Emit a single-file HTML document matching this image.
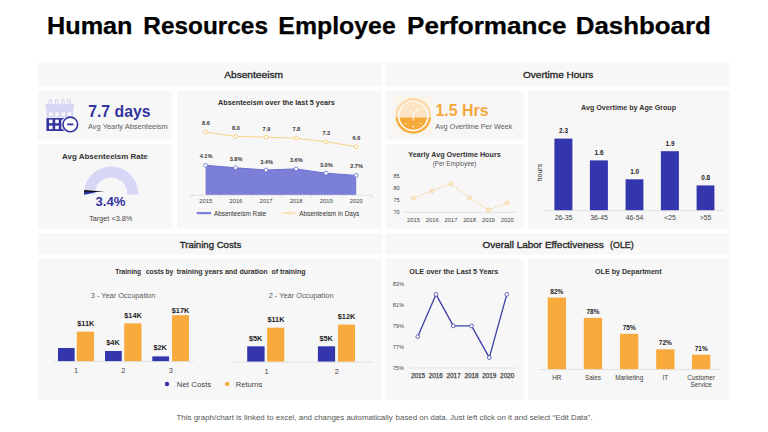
<!DOCTYPE html>
<html>
<head>
<meta charset="utf-8">
<title>Human Resources Employee Performance Dashboard</title>
<style>
html,body{margin:0;padding:0;background:#ffffff;}
body{width:768px;height:432px;overflow:hidden;font-family:"Liberation Sans",sans-serif;}
svg{display:block;font-family:"Liberation Sans",sans-serif;}
.b{font-weight:bold;}
.m{text-anchor:middle;}
.e{text-anchor:end;}
</style>
</head>
<body>
<svg width="768" height="432" viewBox="0 0 768 432">
<rect x="0" y="0" width="768" height="432" fill="#ffffff"/>

<!-- TITLE -->
<g class="b" font-size="24" fill="#000000" stroke="#000000" stroke-width="0.25">
<text x="47" y="33.5" textLength="85.5" lengthAdjust="spacingAndGlyphs">Human</text>
<text x="143.3" y="33.5" textLength="124.7" lengthAdjust="spacingAndGlyphs">Resources</text>
<text x="278.3" y="33.5" textLength="117.5" lengthAdjust="spacingAndGlyphs">Employee</text>
<text x="407" y="33.5" textLength="159.5" lengthAdjust="spacingAndGlyphs">Performance</text>
<text x="575.8" y="33.5" textLength="135" lengthAdjust="spacingAndGlyphs">Dashboard</text>
</g>

<!-- PANELS -->
<g fill="#f7f7f7">
<rect x="38" y="62.3" width="344" height="24.2"/>
<rect x="385.5" y="62.3" width="344" height="24.2"/>
<rect x="38" y="233.3" width="344" height="21.2"/>
<rect x="385.5" y="233.3" width="344" height="21.2"/>
<rect x="38" y="91" width="134.5" height="48.5"/>
<rect x="38" y="144" width="134.5" height="84.8"/>
<rect x="177" y="91" width="205" height="137.8"/>
<rect x="385.5" y="91" width="138" height="48.5"/>
<rect x="385.5" y="144" width="138" height="84.8"/>
<rect x="528" y="91" width="201.5" height="137.8"/>
<rect x="38" y="258.8" width="344" height="141.2"/>
<rect x="385.5" y="258.7" width="138" height="141.3"/>
<rect x="528" y="258.7" width="201.5" height="141.3"/>
</g>

<!-- SECTION HEADERS -->
<g font-size="9.5" fill="#2b2b2b" stroke="#2b2b2b" stroke-width="0.35">
<text x="224.2" y="78.3" textLength="58.8" lengthAdjust="spacingAndGlyphs">Absenteeism</text>
<text x="523" y="78.3" textLength="70.3" lengthAdjust="spacingAndGlyphs">Overtime Hours</text>
<text x="179.7" y="247.5" textLength="61.5" lengthAdjust="spacingAndGlyphs">Training Costs</text>
<text x="482.5" y="247.5" textLength="121.3" lengthAdjust="spacingAndGlyphs">Overall Labor Effectiveness</text>
<text x="610" y="247.5" textLength="23.8" lengthAdjust="spacingAndGlyphs">(OLE)</text>
</g>

<!-- C1 : 7.7 days -->
<g id="cal">
  <!-- rings -->
  <g fill="#d5d6f4">
    <rect x="48.6" y="98.9" width="3.6" height="8" rx="1.8"/>
    <rect x="54.8" y="98.9" width="3.6" height="8" rx="1.8"/>
    <rect x="61.0" y="98.9" width="3.6" height="8" rx="1.8"/>
    <rect x="67.2" y="98.9" width="3.6" height="8" rx="1.8"/>
    <rect x="45.5" y="104" width="28.6" height="3.8" rx="1"/>
    <rect x="46.4" y="107.5" width="26.8" height="9.8"/>
  </g>
  <g fill="#f7f7f7">
    <rect x="49.7" y="100.2" width="1.4" height="4.6" rx="0.7"/>
    <rect x="55.9" y="100.2" width="1.4" height="4.6" rx="0.7"/>
    <rect x="62.1" y="100.2" width="1.4" height="4.6" rx="0.7"/>
    <rect x="68.3" y="100.2" width="1.4" height="4.6" rx="0.7"/>
    <rect x="49" y="112.4" width="3.6" height="3.4"/>
    <rect x="55.2" y="112.4" width="3.6" height="3.4"/>
    <rect x="61.4" y="112.4" width="3.6" height="3.4"/>
    <rect x="67.6" y="112.4" width="3.6" height="3.4"/>
  </g>
  <rect x="46.4" y="118" width="22" height="13" rx="1" fill="#3234a0"/>
  <g fill="#f7f7f7">
    <rect x="49" y="119.6" width="3.6" height="3.6"/>
    <rect x="55.2" y="119.6" width="3.6" height="3.6"/>
    <rect x="61.4" y="119.6" width="3.0" height="3.6"/>
    <rect x="49" y="125.6" width="3.6" height="3.6"/>
    <rect x="55.2" y="125.6" width="3.6" height="3.6"/>
    <rect x="61.4" y="125.6" width="3.0" height="3.6"/>
  </g>
  <circle cx="70.3" cy="124.4" r="8.9" fill="#f7f7f7"/>
  <circle cx="70.3" cy="124.4" r="7.3" fill="#ffffff" stroke="#3234a0" stroke-width="1.6"/>
  <rect x="67.2" y="123.5" width="6.2" height="1.8" fill="#3234a0"/>
</g>
<text x="88.2" y="116.5" class="b" font-size="16" fill="#3234a0" textLength="62.3" lengthAdjust="spacingAndGlyphs">7.7 days</text>
<text x="88" y="129" font-size="7.5" fill="#606060" textLength="79.8" lengthAdjust="spacingAndGlyphs">Avg Yearly Absenteeism</text>

<!-- C2 : gauge -->
<text x="62" y="159" class="b" font-size="8" fill="#333333" textLength="85.8" lengthAdjust="spacingAndGlyphs">Avg Absenteeism Rate</text>
<path d="M84.1 194.6 L84.1 193.4 A27 27 0 0 1 138.1 193.4 L138.1 194.6 L127.1 194.6 L127.1 193.4 A16 16 0 0 0 95.1 193.4 L95.1 194.6 Z" fill="#d6d7f5"/>
<polygon points="84.1,189.9 104.5,191.7 84.1,192.6" fill="#0a0a14"/>
<polygon points="84.1,191.6 96,192.3 84.1,194.8" fill="#2a2c96"/>
<text x="95.5" y="206.3" class="b" font-size="13.5" fill="#3234a0" textLength="30" lengthAdjust="spacingAndGlyphs">3.4%</text>
<text x="89.2" y="220.5" font-size="7.5" fill="#444444" textLength="43" lengthAdjust="spacingAndGlyphs">Target &lt;3.8%</text>

<!-- C3 : area chart -->
<text x="218" y="105" class="b" font-size="7.5" fill="#2b2b2b" textLength="116.8" lengthAdjust="spacingAndGlyphs">Absenteeism over the last 5 years</text>
<polygon points="205.6,194.9 205.6,165.3 235.5,167.8 266.0,170.0 296.1,168.9 326.1,173.2 356.2,175.4 356.2,194.9" fill="#7b7fd8"/>
<polyline points="205.6,165.3 235.5,167.8 266.0,170.0 296.1,168.9 326.1,173.2 356.2,175.4" fill="none" stroke="#6a6fd0" stroke-width="1"/>
<g stroke="#d9d9d9" stroke-width="0.7" fill="none">
  <path d="M190.3 195.2 H372.3"/>
  <path d="M190.3 195.2 v3 M220.6 195.2 v3 M250.9 195.2 v3 M281.2 195.2 v3 M311.5 195.2 v3 M341.8 195.2 v3 M372.1 195.2 v3"/>
</g>
<polyline points="205.6,132.2 235.5,136.4 266.0,137.2 296.1,138.1 326.1,141.8 356.2,146.7" fill="none" stroke="#f8d384" stroke-width="1"/>
<g fill="#ffffff" stroke="#f3c766" stroke-width="0.8">
  <circle cx="205.6" cy="132.2" r="1.9"/><circle cx="235.5" cy="136.4" r="1.9"/><circle cx="266.0" cy="137.2" r="1.9"/>
  <circle cx="296.1" cy="138.1" r="1.9"/><circle cx="326.1" cy="141.8" r="1.9"/><circle cx="356.2" cy="146.7" r="1.9"/>
</g>
<g fill="#ffffff" stroke="#6a6fd0" stroke-width="0.8">
  <circle cx="205.6" cy="165.3" r="1.9"/><circle cx="235.5" cy="167.8" r="1.9"/><circle cx="266.0" cy="170.0" r="1.9"/>
  <circle cx="296.1" cy="168.9" r="1.9"/><circle cx="326.1" cy="173.2" r="1.9"/><circle cx="356.2" cy="175.4" r="1.9"/>
</g>
<g class="b m" font-size="5.6" fill="#333333">
  <text x="206" y="125">8.6</text><text x="236" y="130.1">8.0</text><text x="266.5" y="130.7">7.9</text>
  <text x="296.3" y="131.3">7.8</text><text x="326.3" y="134.6">7.3</text><text x="356.5" y="140">6.6</text>
  <text x="206" y="158.2">4.1%</text><text x="236" y="160.9">3.8%</text><text x="266.5" y="163.6">3.4%</text>
  <text x="296.3" y="161.8">3.6%</text><text x="326.3" y="166.5">3.0%</text><text x="356.5" y="168.3">2.7%</text>
</g>
<g class="m" font-size="5.8" fill="#444444">
  <text x="205.7" y="203.2">2015</text><text x="235.8" y="203.2">2016</text><text x="266" y="203.2">2017</text>
  <text x="296.1" y="203.2">2018</text><text x="326.2" y="203.2">2019</text><text x="356.3" y="203.2">2020</text>
</g>
<rect x="196.8" y="212" width="14.3" height="2.2" fill="#7b7fd8"/>
<text x="213.9" y="215.5" font-size="7" fill="#333333" textLength="52.2" lengthAdjust="spacingAndGlyphs">Absenteeism Rate</text>
<path d="M281.6 213.1 H297" stroke="#f8d384" stroke-width="0.9"/>
<circle cx="289.3" cy="213.1" r="1.3" fill="#ffffff" stroke="#f3c766" stroke-width="0.6"/>
<text x="299.2" y="215.5" font-size="7" fill="#333333" textLength="60.1" lengthAdjust="spacingAndGlyphs">Absenteeism in Days</text>

<!-- C4 : 1.5 Hrs -->
<rect x="393.8" y="96" width="38.4" height="39" fill="#f9f4ec"/>
<g id="clock">
  <clipPath id="cTop"><rect x="390" y="95" width="50" height="22.6"/></clipPath>
  <clipPath id="cBot"><rect x="390" y="117.6" width="50" height="25"/></clipPath>
  <circle cx="413.3" cy="115.9" r="17.8" fill="#fbd9a8" clip-path="url(#cTop)"/>
  <circle cx="413.3" cy="115.9" r="17.8" fill="#f6aa3a" clip-path="url(#cBot)"/>
  <circle cx="413.3" cy="115.9" r="15.5" fill="#fdf7ee"/>
  <circle cx="413.3" cy="115.9" r="13.8" fill="#fce4c2" clip-path="url(#cTop)"/>
  <circle cx="413.3" cy="115.9" r="13.8" fill="#f6aa3a" clip-path="url(#cBot)"/>
  <g fill="#fdf3e3">
    <circle cx="413.3" cy="105.3" r="0.9"/><circle cx="413.3" cy="126.5" r="0.9"/>
    <circle cx="402.7" cy="115.9" r="0.9"/><circle cx="423.9" cy="115.9" r="0.9"/>
    <circle cx="405.8" cy="108.4" r="0.7"/><circle cx="420.8" cy="108.4" r="0.7"/>
    <circle cx="405.8" cy="123.4" r="0.7"/><circle cx="420.8" cy="123.4" r="0.7"/>
  </g>
  <path d="M413.3 120 V114 L410.8 110.5 M413.3 114 L418 108.8" stroke="#fdf6ea" stroke-width="1.2" fill="none" stroke-linecap="round"/>
</g>
<text x="435.5" y="116.3" class="b" font-size="16" fill="#f6a83a" textLength="53" lengthAdjust="spacingAndGlyphs">1.5 Hrs</text>
<text x="435.3" y="129.3" font-size="7.5" fill="#606060" textLength="77" lengthAdjust="spacingAndGlyphs">Avg Overtime Per Week</text>

<!-- C5 : yearly avg overtime -->
<text x="454.5" y="156.5" class="b m" font-size="7.2" fill="#333333" textLength="92.5" lengthAdjust="spacingAndGlyphs">Yearly Avg Overtime Hours</text>
<text x="454.5" y="166.2" class="m" font-size="6.4" fill="#555555" textLength="43.5" lengthAdjust="spacingAndGlyphs">(Per Employee)</text>
<g class="m" font-size="5.6" fill="#444444">
  <text x="396.6" y="178.2">85</text><text x="396.6" y="190.2">80</text><text x="396.6" y="202.2">75</text><text x="396.6" y="214.2">70</text>
</g>
<path d="M404 212.3 H516.3" stroke="#d9d9d9" stroke-width="0.7"/>
<polyline points="413.5,198 432.2,190.8 451,183.7 469.6,198 488.4,210 507.2,202.8" fill="none" stroke="#f8d48f" stroke-width="0.9" stroke-dasharray="2.2 1.1"/>
<g fill="#f8f4ec" stroke="#f6c877" stroke-width="0.8">
  <circle cx="413.5" cy="198" r="1.8"/><circle cx="432.2" cy="190.8" r="1.8"/><circle cx="451" cy="183.7" r="1.8"/>
  <circle cx="469.6" cy="198" r="1.8"/><circle cx="488.4" cy="210" r="1.8"/><circle cx="507.2" cy="202.8" r="1.8"/>
</g>
<g class="m" font-size="5.8" fill="#444444">
  <text x="413.5" y="221.6">2015</text><text x="432.2" y="221.6">2016</text><text x="451" y="221.6">2017</text>
  <text x="469.6" y="221.6">2018</text><text x="488.4" y="221.6">2019</text><text x="507.2" y="221.6">2020</text>
</g>

<!-- C6 : overtime by age group -->
<text x="581.1" y="109.7" class="b" font-size="7" fill="#333333" textLength="95" lengthAdjust="spacingAndGlyphs">Avg Overtime by Age Group</text>
<g fill="#3436ae">
  <rect x="554.4" y="138.6" width="18" height="71.9"/>
  <rect x="589.9" y="160.4" width="18" height="50.1"/>
  <rect x="625.6" y="179.3" width="17.8" height="31.2"/>
  <rect x="660.9" y="151.2" width="18" height="59.3"/>
  <rect x="696.6" y="185.4" width="17.8" height="25.1"/>
</g>
<path d="M545 210.6 H723.5" stroke="#d9d9d9" stroke-width="0.7"/>
<g class="b m" font-size="6.4" fill="#222222">
  <text x="563.5" y="133">2.3</text><text x="599" y="154.8">1.6</text><text x="634.6" y="173.8">1.0</text>
  <text x="670" y="145.6">1.9</text><text x="705.6" y="179.8">0.8</text>
</g>
<g class="m" font-size="6.9" fill="#444444">
  <text x="563.5" y="220.3">26-35</text><text x="599" y="220.2">36-45</text><text x="634.6" y="220.2">46-54</text>
  <text x="670" y="220.2">&lt;25</text><text x="705.6" y="220.2">&gt;55</text>
</g>
<text transform="translate(542.4 172.6) rotate(-90)" class="m" font-size="7.1" fill="#333333">hours</text>

<!-- C7 : training costs -->
<g class="b" font-size="7" fill="#333333">
<text x="115.2" y="274" textLength="26" lengthAdjust="spacingAndGlyphs">Training</text>
<text x="145.7" y="274" textLength="18.2" lengthAdjust="spacingAndGlyphs">costs</text>
<text x="165.5" y="274" textLength="7.8" lengthAdjust="spacingAndGlyphs">by</text>
<text x="176.7" y="274" textLength="90.9" lengthAdjust="spacingAndGlyphs">training years and duration</text>
<text x="271.5" y="274" textLength="33.9" lengthAdjust="spacingAndGlyphs">of training</text>
</g>
<text x="90.8" y="298" font-size="7.4" fill="#5a5a5a" textLength="64.5" lengthAdjust="spacingAndGlyphs">3 - Year Occupation</text>
<text x="268.7" y="298" font-size="7.4" fill="#5a5a5a" textLength="64.8" lengthAdjust="spacingAndGlyphs">2 - Year Occupation</text>
<g fill="#3436ae">
  <rect x="58" y="348" width="16.6" height="13.4"/>
  <rect x="105" y="351" width="16.8" height="10.4"/>
  <rect x="152.3" y="356.4" width="16.8" height="5"/>
  <rect x="247.2" y="346.3" width="17.4" height="15.5"/>
  <rect x="317.9" y="346.3" width="17.2" height="15.5"/>
</g>
<g fill="#f8aa3c">
  <rect x="76.8" y="331.7" width="17.2" height="29.7"/>
  <rect x="124.2" y="323.4" width="17.3" height="38"/>
  <rect x="172" y="315.2" width="17" height="46.2"/>
  <rect x="267.1" y="327.7" width="17.2" height="34.1"/>
  <rect x="338" y="324.6" width="17" height="37.2"/>
</g>
<path d="M53.8 361.6 H193.8 M230.4 362.1 H372.5" stroke="#dcdcdc" stroke-width="0.8"/>
<g class="b m" font-size="7.3" fill="#222222">
  <text x="85.7" y="326.4">$11K</text><text x="133" y="318">$14K</text><text x="180.5" y="313.3">$17K</text>
  <text x="113" y="345.3">$4K</text><text x="160.2" y="350.4">$2K</text>
  <text x="255.7" y="340.6">$5K</text><text x="275.9" y="322.1">$11K</text>
  <text x="326.2" y="340.6">$5K</text><text x="346.5" y="319.1">$12K</text>
</g>
<g class="m" font-size="7.4" fill="#444444">
  <text x="76" y="373.4">1</text><text x="123.3" y="373.4">2</text><text x="170.8" y="373.4">3</text>
  <text x="266.5" y="373.6">1</text><text x="336.7" y="373.6">2</text>
</g>
<circle cx="167" cy="384" r="2.2" fill="#3436ae"/>
<text x="176.8" y="386.7" font-size="7.6" fill="#444444" textLength="34.5" lengthAdjust="spacingAndGlyphs">Net Costs</text>
<circle cx="227.2" cy="384" r="2.2" fill="#f8aa3c"/>
<text x="235.8" y="386.7" font-size="7.6" fill="#444444" textLength="26.5" lengthAdjust="spacingAndGlyphs">Returns</text>

<!-- C8 : OLE line -->
<text x="409.3" y="274.3" class="b" font-size="7.5" fill="#333333" textLength="89" lengthAdjust="spacingAndGlyphs">OLE  over the Last 5 Years</text>
<g class="m" font-size="5.6" fill="#444444">
  <text x="398.3" y="285.5">83%</text><text x="398.3" y="306.6">81%</text><text x="398.3" y="327.7">79%</text>
  <text x="398.3" y="348.9">77%</text><text x="398.3" y="370">75%</text>
</g>
<path d="M408.8 368 H516.3" stroke="#d9d9d9" stroke-width="0.7"/>
<polyline points="417.8,336.6 436,294.4 453.3,325.9 471.5,325.9 489.3,357.6 506.8,294.4" fill="none" stroke="#3d40a8" stroke-width="1.3" stroke-linejoin="round"/>
<g fill="#ffffff" stroke="#3d40a8" stroke-width="0.8">
  <circle cx="417.8" cy="336.6" r="1.9"/><circle cx="436" cy="294.4" r="1.9"/><circle cx="453.3" cy="325.9" r="1.9"/>
  <circle cx="471.5" cy="325.9" r="1.9"/><circle cx="489.3" cy="357.6" r="1.9"/><circle cx="506.8" cy="294.4" r="1.9"/>
</g>
<g class="m" font-size="6.4" fill="#444444" stroke="#444444" stroke-width="0.25">
  <text x="418" y="378.4">2015</text><text x="435.8" y="378.4">2016</text><text x="453.6" y="378.4">2017</text>
  <text x="471.5" y="378.4">2018</text><text x="489.3" y="378.4">2019</text><text x="507.2" y="378.4">2020</text>
</g>

<!-- C9 : OLE by dept -->
<text x="595" y="273.6" class="b" font-size="7" fill="#333333" textLength="66.6" lengthAdjust="spacingAndGlyphs">OLE  by Department</text>
<g fill="#f8aa3c">
  <rect x="547.7" y="297.6" width="18.3" height="71.8"/>
  <rect x="583.8" y="317.9" width="18.3" height="51.5"/>
  <rect x="620" y="333.8" width="18.3" height="35.6"/>
  <rect x="656.2" y="349.3" width="18.3" height="20.1"/>
  <rect x="692" y="354.7" width="18.3" height="14.7"/>
</g>
<path d="M539.2 369.6 H719.4" stroke="#dcdcdc" stroke-width="0.8"/>
<g class="b m" font-size="6.5" fill="#222222">
  <text x="556.8" y="293.8">82%</text><text x="593" y="314">78%</text><text x="629.2" y="330">75%</text>
  <text x="665.3" y="345.4">72%</text><text x="701.2" y="350.8">71%</text>
</g>
<g class="m" font-size="6.4" fill="#404040">
  <text x="556.8" y="379.8">HR</text><text x="593" y="379.8">Sales</text><text x="629.2" y="379.8">Marketing</text>
  <text x="665.3" y="379.8">IT</text><text x="701.2" y="379.8">Customer</text><text x="701.2" y="387.2">Service</text>
</g>

<!-- FOOTER -->
<text x="176.5" y="420.3" font-size="7.4" fill="#555555" textLength="216.3" lengthAdjust="spacingAndGlyphs">This graph/chart is linked to excel, and changes automatically</text>
<text x="395.6" y="420.3" font-size="7.4" fill="#555555" textLength="196.9" lengthAdjust="spacingAndGlyphs">based on data. Just left click on it and select “Edit Data”.</text>
</svg>
</body>
</html>
